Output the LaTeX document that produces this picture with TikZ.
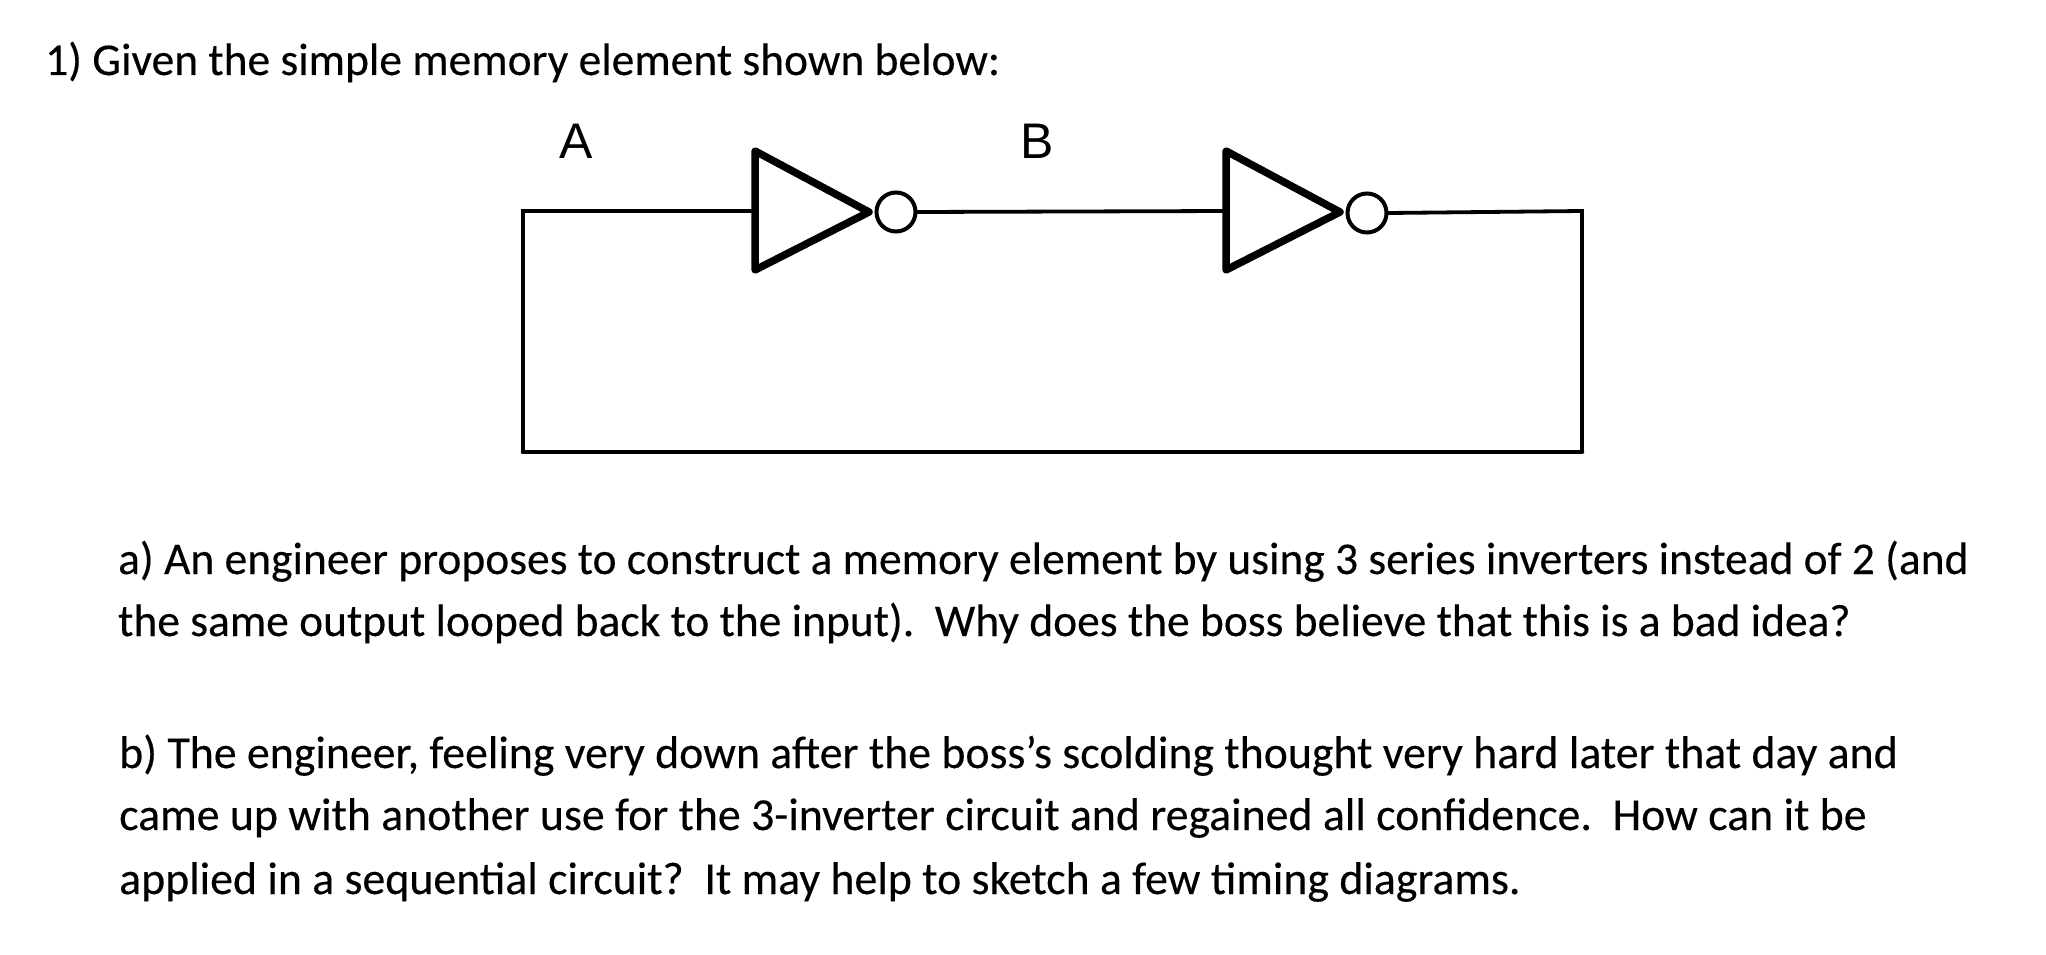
\documentclass[tikz,border=0pt]{standalone}
\usepackage{fontspec}
\setmainfont[FakeBold=0.25]{Carlito}
\newfontfamily\labelfont{Liberation Sans}
\tikzset{
  textline/.style={anchor=base west,inner sep=0pt,font=\fontsize{45.5}{54}\selectfont},
  textlineb/.style={anchor=base west,inner sep=0pt,font=\fontsize{45.8}{54}\selectfont},
  siglabel/.style={anchor=base,inner sep=0pt,font=\labelfont\fontsize{50}{58}\selectfont},
  wire/.style={line width=3.8pt,line cap=round,line join=miter},
  gate/.style={line width=7.5pt,line join=round,fill=white},
  bubble/.style={circle,draw,line width=4pt,fill=white,minimum size=39pt,inner sep=0pt}
}
\begin{document}
\begin{tikzpicture}[x=1pt,y=-1pt]
\useasboundingbox (0,0) rectangle (2046,955);
\fill[white] (0,0) rectangle (2046,955);
\node[textline] (t1) at (45,75) {1) Given the simple memory element shown below:};
\node[siglabel] (la) at (576,159) {A};
\node[siglabel] (lb) at (1037,159) {B};
\coordinate (in1) at (755,211);
\coordinate (in2) at (1228,211);
\coordinate (ll) at (523,211);
\coordinate (lr) at (1582,211);
\coordinate (bl) at (523,452);
\coordinate (br) at (1582,452);
\node[bubble] (b1) at (896,212) {};
\node[bubble] (b2) at (1367,213) {};
\draw[wire] (in1) -- (ll) -- (bl);
\draw[wire,line width=4.5pt] (bl) -- (br);
\draw[wire] (br) -- (lr) -- (b2.east);
\draw[wire] (b1.east) -- (in2);
\draw[gate] (755,151) -- (869,212) -- (755,270) -- cycle;
\draw[gate] (1226,151) -- (1340,212) -- (1226,270) -- cycle;
\node[textline] (t2) at (118,574) {a) An engineer proposes to construct a memory element by using 3 series inverters instead of 2 (and};
\node[textline] (t3) at (118,636) {the same output looped back to the input).\ \ Why does the boss believe that this is a bad idea?};
\node[textlineb] (t4) at (119,768) {b) The engineer, feeling very down after the boss’s scolding thought very hard later that day and};
\node[textlineb] (t5) at (119,830) {came up with another use for the 3-inverter circuit and regained all confidence.\ \ How can it be};
\node[textlineb] (t6) at (119,894) {applied in a sequential circuit?\ \ It may help to sketch a few timing diagrams.};
\end{tikzpicture}
\end{document}
